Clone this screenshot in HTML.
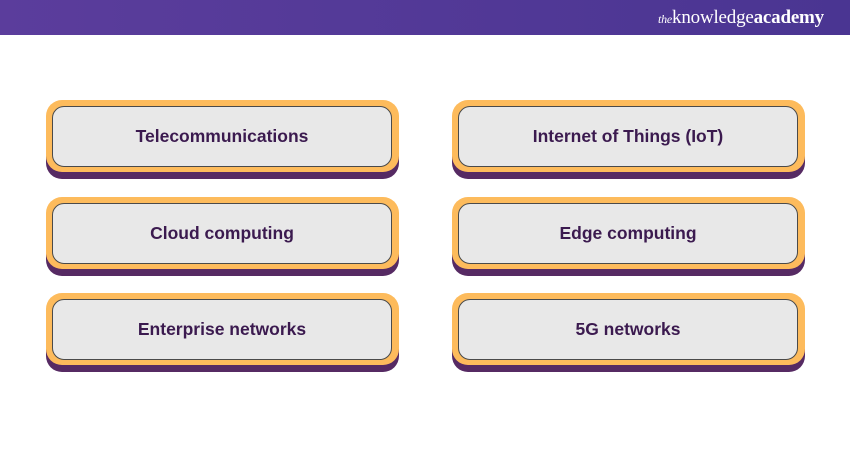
<!DOCTYPE html>
<html><head><style>
body{margin:0;width:850px;height:450px;background:#fff;position:relative;overflow:hidden;font-family:"Liberation Sans",sans-serif}
.hdr{position:absolute;left:0;top:0;width:850px;height:35px;background:linear-gradient(90deg,#5b3d9c,#4a3592)}
.logo{position:absolute;right:26px;top:7px;color:#fff;font-family:"Liberation Serif",serif;font-size:19px;letter-spacing:-0.2px}
.logo i{font-size:12px}
.b{position:absolute;width:353px;height:79px}
.sh{position:absolute;left:0;top:8px;width:353px;height:71px;background:#562a63;border-radius:16px}
.or{position:absolute;left:0;top:0;width:353px;height:72px;background:#fdbb5c;border-radius:16px}
.in{position:absolute;left:6px;top:6px;width:338px;height:59px;background:#e8e8e8;border:1px solid #4a4a4a;border-radius:12px;display:flex;align-items:center;justify-content:center;color:#3b1a4f;font-size:17.5px;font-weight:bold}
</style></head><body>
<div class="hdr"><div class="logo"><i>the</i>knowledge<b>academy</b></div></div>
<div class="b" style="left:46px;top:100px"><div class="sh"></div><div class="or"></div><div class="in">Telecommunications</div></div>
<div class="b" style="left:452px;top:100px"><div class="sh"></div><div class="or"></div><div class="in">Internet of Things (IoT)</div></div>
<div class="b" style="left:46px;top:197px"><div class="sh"></div><div class="or"></div><div class="in">Cloud computing</div></div>
<div class="b" style="left:452px;top:197px"><div class="sh"></div><div class="or"></div><div class="in">Edge computing</div></div>
<div class="b" style="left:46px;top:293px"><div class="sh"></div><div class="or"></div><div class="in">Enterprise networks</div></div>
<div class="b" style="left:452px;top:293px"><div class="sh"></div><div class="or"></div><div class="in">5G networks</div></div>
</body></html>
